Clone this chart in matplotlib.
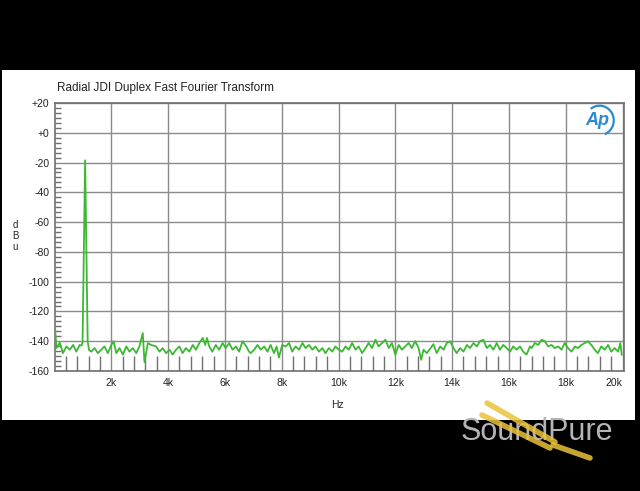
import matplotlib
matplotlib.use("Agg")
import matplotlib.pyplot as plt
from matplotlib.patches import Rectangle, Arc
from matplotlib.lines import Line2D
from matplotlib.ticker import MultipleLocator

# FFT trace, frequency in kHz, level in dBu
freq_khz = [0.02, 0.07, 0.19, 0.30, 0.42, 0.54, 0.66, 0.77, 0.89, 0.95,
            0.99, 1.08, 1.17, 1.22, 1.30, 1.41, 1.53, 1.65, 1.76, 1.88,
            2.00, 2.08, 2.18, 2.29, 2.41, 2.53, 2.64, 2.76, 2.88, 2.99,
            3.11, 3.17, 3.29, 3.40, 3.58, 3.70, 3.81, 3.93, 4.05, 4.16,
            4.28, 4.40, 4.51, 4.63, 4.75, 4.87, 4.98, 5.10, 5.22, 5.31,
            5.37, 5.45, 5.56, 5.68, 5.80, 5.92, 6.03, 6.15, 6.27, 6.39,
            6.50, 6.62, 6.74, 6.85, 6.91, 7.03, 7.15, 7.26, 7.38, 7.50,
            7.61, 7.73, 7.82, 7.90, 8.02, 8.14, 8.26, 8.37, 8.49, 8.61,
            8.73, 8.84, 8.96, 9.08, 9.19, 9.31, 9.43, 9.54, 9.66, 9.78,
            9.89, 10.01, 10.13, 10.25, 10.36, 10.48, 10.60, 10.71, 10.83, 10.95,
            11.06, 11.18, 11.30, 11.41, 11.53, 11.65, 11.77, 11.88, 12.00, 12.12,
            12.23, 12.35, 12.47, 12.58, 12.70, 12.82, 12.91, 12.99, 13.11, 13.23,
            13.34, 13.46, 13.58, 13.70, 13.81, 13.93, 14.05, 14.16, 14.28, 14.40,
            14.52, 14.63, 14.75, 14.87, 14.98, 15.10, 15.22, 15.33, 15.45, 15.57,
            15.68, 15.80, 15.92, 16.04, 16.15, 16.27, 16.39, 16.50, 16.62, 16.74,
            16.80, 16.91, 17.03, 17.15, 17.26, 17.38, 17.50, 17.61, 17.73, 17.85,
            17.96, 18.08, 18.20, 18.32, 18.43, 18.55, 18.67, 18.78, 18.90, 19.02,
            19.13, 19.25, 19.37, 19.49, 19.60, 19.72, 19.84, 19.92, 19.97]
level_dbu = [-130.0, -144.6, -141.0, -148.0, -143.5, -145.7, -142.5, -147.0, -142.5, -143.0,
             -141.0, -18.5, -140.0, -146.0, -147.0, -144.6, -148.0, -145.7, -143.5, -148.0,
             -142.5, -140.0, -148.0, -144.6, -149.0, -143.5, -147.0, -144.6, -148.0, -143.5,
             -134.5, -154.0, -141.2, -142.5, -143.5, -147.0, -144.6, -148.0, -145.7, -149.0,
             -145.7, -143.5, -148.0, -144.6, -147.0, -142.5, -145.7, -141.2, -137.8, -142.5,
             -137.8, -143.5, -147.0, -142.5, -145.7, -141.2, -144.6, -141.2, -145.7, -143.5,
             -147.0, -140.1, -143.0, -147.0, -148.0, -145.7, -142.5, -145.7, -143.5, -147.0,
             -142.5, -148.0, -143.5, -151.0, -142.5, -143.5, -141.2, -147.0, -143.5, -145.7,
             -141.2, -144.6, -142.5, -145.7, -143.5, -147.0, -144.6, -148.0, -144.6, -147.0,
             -143.5, -145.7, -147.0, -143.5, -145.7, -141.2, -145.7, -143.5, -148.0, -144.6,
             -141.2, -144.6, -139.0, -143.5, -141.2, -139.0, -144.6, -141.2, -149.0, -142.5,
             -145.7, -143.5, -141.2, -144.6, -140.0, -144.6, -152.5, -145.7, -148.0, -145.0,
             -142.0, -148.0, -143.5, -145.7, -141.2, -140.0, -144.6, -148.0, -144.6, -147.0,
             -142.5, -144.6, -141.2, -143.5, -140.0, -139.0, -144.6, -142.5, -145.7, -141.2,
             -145.7, -142.5, -144.6, -147.0, -143.5, -145.7, -143.5, -147.0, -149.0, -143.5,
             -144.6, -141.2, -142.5, -139.0, -140.0, -143.5, -142.5, -144.6, -143.5, -145.7,
             -141.2, -144.6, -147.0, -143.5, -144.6, -142.5, -141.2, -140.0, -142.5, -145.7,
             -148.0, -143.5, -145.7, -142.5, -147.0, -144.6, -147.0, -141.2, -149.0]

y_ticks = [20, 0, -20, -40, -60, -80, -100, -120, -140, -160]
y_labels = ["+20", "+0", "-20", "-40", "-60", "-80", "-100", "-120", "-140", "-160"]
x_ticks = [2, 4, 6, 8, 10, 12, 14, 16, 18, 20]
x_labels = ["2k", "4k", "6k", "8k", "10k", "12k", "14k", "16k", "18k", "20k"]

W, H = 640, 491
plt.rcParams['font.family'] = ['Liberation Sans', 'DejaVu Sans']

fig = plt.figure(figsize=(6.4, 4.91), dpi=100, facecolor='black')
fig.patches.append(Rectangle((2 / W, 1 - 420 / H), 633 / W, 350 / H,
                             transform=fig.transFigure, facecolor='white',
                             edgecolor='none', zorder=-5))

ax = fig.add_axes([55 / W, 1 - 371 / H, 569 / W, 268 / H], zorder=2)
ax.set_facecolor('white')
ax.plot(freq_khz, level_dbu, color='#3cb832', lw=1.3, zorder=3)

ax.set_xlim(0.02, 20.05)
ax.set_ylim(-160, 20)
ax.set_yticks(y_ticks)
ax.set_yticklabels(y_labels)
ax.set_xticks(x_ticks)
ax.set_xticklabels(x_labels)
ax.xaxis.set_minor_locator(MultipleLocator(0.4))
ax.yaxis.set_minor_locator(MultipleLocator(20 / 6))
ax.tick_params(axis='both', which='major', length=0, labelsize=7.5, colors='#222222')
ax.tick_params(axis='y', which='major', pad=4)
ax.tick_params(axis='x', which='major', pad=5)
ax.tick_params(axis='x', which='minor', direction='in', length=11, width=1, color='#707070')
ax.tick_params(axis='y', which='minor', direction='in', length=4.5, width=1, color='#707070')
ax.get_xticklabels()[-1].set_horizontalalignment('right')
ax.grid(True, which='major', color='#8a8a8a', lw=1.0, zorder=1)
for s in ax.spines.values():
    s.set_color('#707070')
    s.set_linewidth(1.2)

fig.text(57 / W, 1 - 88 / H, "Radial JDI Duplex Fast Fourier Transform",
         fontsize=8.5, color='#222222', va='center', ha='left')
fig.text(15 / W, 1 - 236 / H, "d\nB\nu", fontsize=7, color='#222222',
         ha='center', va='center', linespacing=1.1)
fig.text(337 / W, 1 - 405 / H, "Hz", fontsize=7.5, color='#222222',
         ha='center', va='center')

# AP logo in the corner
ax.text(0.953, 0.935, "Ap", transform=ax.transAxes, fontsize=13,
        fontstyle='italic', fontweight='bold', color='#2a8ccd',
        ha='center', va='center', zorder=5)
ax.add_patch(Arc((0.957, 0.935), 0.05, 0.11, angle=0, theta1=-80, theta2=110,
                 transform=ax.transAxes, color='#2a8ccd', lw=1.6, zorder=5))

# SoundPure watermark
fig.text(537 / W, 1 - 432 / H, "SoundPure", fontsize=22, color='#b4b4b4',
         ha='center', va='center', zorder=5)
fork = [((487, 403), (555, 442)), ((482, 415), (550, 448)),
        ((553, 445), (590, 458))]
for (x0, y0), (x1, y1) in fork:
    fig.lines.append(Line2D([x0 / W, x1 / W], [1 - y0 / H, 1 - y1 / H],
                            transform=fig.transFigure, color='#e9c23a',
                            lw=4, alpha=0.85, solid_capstyle='round', zorder=6))

fig.savefig("out.png", dpi=100, facecolor=fig.get_facecolor())
